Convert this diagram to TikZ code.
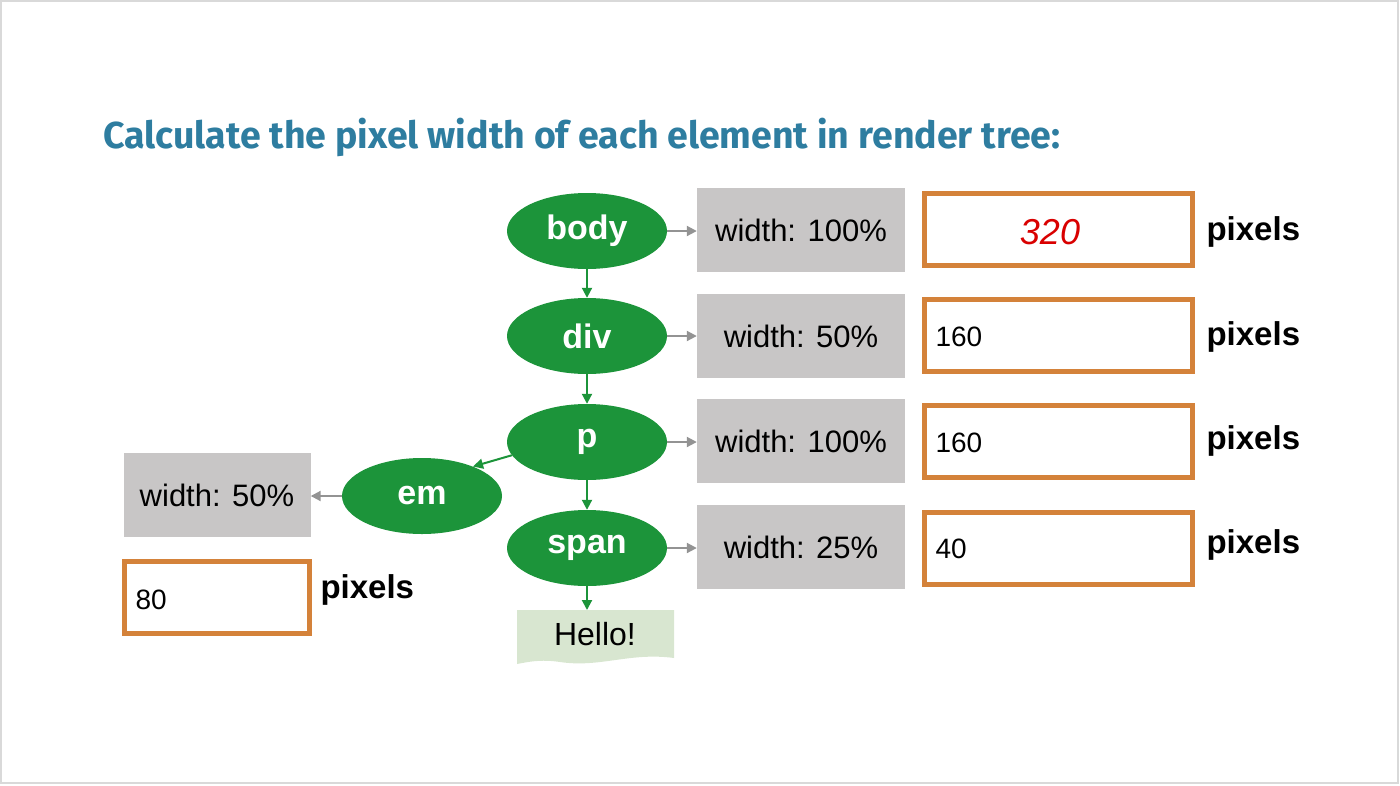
\documentclass[tikz,border=0pt]{standalone}
\usepackage{fontspec}
\setmainfont{Liberation Sans}
\newfontfamily\titlefont{Fira Sans}
\usetikzlibrary{arrows.meta,shapes.geometric}
\definecolor{tgreen}{RGB}{28,148,58}
\definecolor{tgray}{RGB}{200,198,198}
\definecolor{torange}{RGB}{212,130,58}
\definecolor{ttitle}{RGB}{46,125,160}
\definecolor{thello}{RGB}{216,230,208}
\tikzset{
 elem/.style={ellipse,fill=tgreen,minimum width=160pt,minimum height=76pt,inner sep=0pt,text=white,font=\fontsize{34}{36}\selectfont\bfseries},
 wbox/.style={fill=tgray,minimum width=208pt,minimum height=84pt,inner sep=0pt,font=\fontsize{31}{34}\selectfont},
 obox/.style={draw=torange,line width=5pt,fill=white,minimum width=268pt,minimum height=72pt,inner sep=0pt},
 ans/.style={font=\fontsize{28}{30}\selectfont,anchor=west},
 pix/.style={font=\fontsize{33}{36}\selectfont\bfseries,anchor=west},
 garr/.style={-{Triangle[length=10pt,width=10pt]},line width=2pt,draw=gray!85},
 darr/.style={-{Triangle[length=10pt,width=10pt]},line width=2pt,draw=tgreen},
}
\begin{document}
\begin{tikzpicture}[x=1pt,y=-1pt]
\useasboundingbox (0,0) rectangle (1400,785);
\draw[gray!30,line width=1.5pt] (1,1) rectangle (1398,783);
\node[anchor=west,text=ttitle,font=\titlefont\fontsize{37.5}{42}\selectfont\bfseries] (title) at (100,137) {Calculate the pixel width of each element in render tree:};
% ellipses
\node[elem] (body) at (587,231) {body};
\node[elem] (div) at (587,336) {div};
\node[elem] (p) at (587,442) {p};
\node[elem] (em) at (422,496) {em};
\node[elem] (span) at (587,548) {span};
% width boxes
\node[wbox] (wb) at (801,230) {width: 100\%};
\node[wbox] (wd) at (801,336) {width: 50\%};
\node[wbox] (wp) at (801,441) {width: 100\%};
\node[wbox] (ws) at (801,547) {width: 25\%};
\node[wbox,minimum width=187pt] (we) at (217,495) {width: 50\%};
% answer boxes
\node[obox] (ob) at (1058,229) {};
\node[obox] (od) at (1058,335) {};
\node[obox] (op) at (1058,441) {};
\node[obox] (os) at (1058,548) {};
\node[obox,minimum width=185pt,minimum height=72pt] (oe) at (217,597) {};
\node[font=\fontsize{36}{38}\selectfont\itshape,text=red!85!black] (t320) at (1050,232) {320};
\node[ans] (t160a) at (932,337) {160};
\node[ans] (t160b) at (932,443) {160};
\node[ans] (t40) at (932,549) {40};
\node[ans] (t80) at (132,600) {80};
\node[pix] (pb) at (1203,232) {pixels};
\node[pix] (pd) at (1203,337) {pixels};
\node[pix] (pp) at (1203,441) {pixels};
\node[pix] (ps) at (1203,545) {pixels};
\node[pix] (pe) at (317,590) {pixels};
% hello
\fill[thello] (517,610) -- (674,610) -- (674,658) .. controls (630,652) and (600,668) .. (560,662) .. controls (540,659) and (528,662) .. (517,664) -- cycle;
\node[font=\fontsize{32}{34}\selectfont] (hello) at (595,634) {Hello!};
\coordinate (hs) at (587,610);
% arrows
\draw[garr] (body.east) -- (body.east -| wb.west);
\draw[garr] (div.east) -- (div.east -| wd.west);
\draw[garr] (p.east) -- (p.east -| wp.west);
\draw[garr] (span.east) -- (span.east -| ws.west);
\draw[garr] (em.west) -- (em.west -| we.east);
\draw[darr] (body.south) -- (div.north);
\draw[darr] (div.south) -- (p.north);
\draw[darr] (p.south) -- (span.north);
\draw[darr] (p.190) -- (em.30);
\draw[darr] (span.south) -- (hs);
\end{tikzpicture}
\end{document}
